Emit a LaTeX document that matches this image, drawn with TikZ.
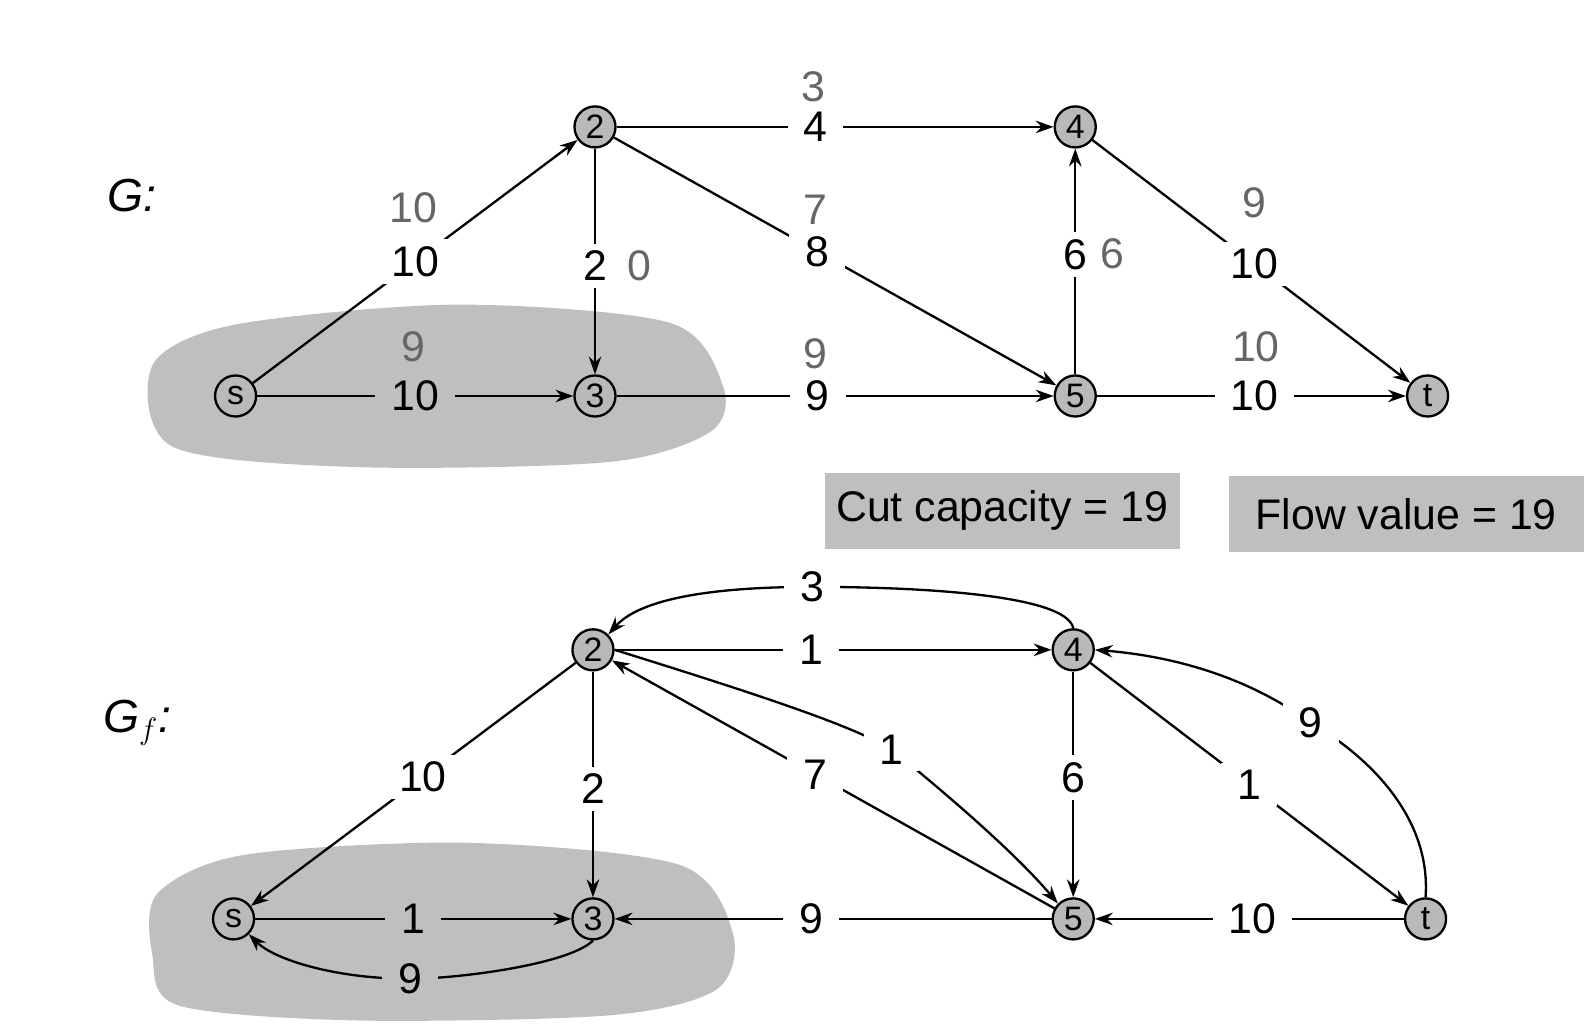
\documentclass[tikz,border=0pt]{standalone}
\usepackage{fontspec}
\setmainfont{Liberation Sans}
\usetikzlibrary{arrows.meta}
\begin{document}
\begin{tikzpicture}[x=0.02cm,y=-0.02cm,
 v/.style={circle,draw,line width=1.3pt,fill=gray!55,minimum size=23pt,inner sep=0pt,font=\fontsize{19}{20}\selectfont},
 e/.style={line width=1.3pt,-{Stealth[length=10pt,width=7pt]}},
 lb/.style={fill=white,inner xsep=9pt,inner ysep=4pt,font=\fontsize{24}{26}\selectfont},
 lbg/.style={lb,fill=gray!50},
 gl/.style={text=gray!80!black,font=\fontsize{24}{26}\selectfont},
 bx/.style={fill=gray!50,minimum width=7cm,minimum height=1.5cm,font=\fontsize{24}{26}\selectfont}]
\useasboundingbox (0,0) rectangle (1564,1018);
% blobs
\fill[gray!50] plot[smooth cycle] coordinates {(150,360) (230,320) (450,300) (660,318) (712,380) (700,425) (600,455) (350,460) (170,440)};
\fill[gray!50] plot[smooth cycle] coordinates {(155,880) (240,842) (460,830) (670,852) (722,920) (705,975) (600,1000) (350,1005) (175,990) (150,940)};
% boxes
\node[bx] (cut) at (987,503) {Cut capacity = 19};
\node[bx] (flow) at (1385,506) {Flow value = 19};
\node[font=\fontsize{26}{28}\selectfont\itshape] (G) at (130,193) {G:};
\node[font=\fontsize{26}{28}\selectfont\itshape] (Gf) at (135,712) {G$_f$:};
% top graph
\node[v] (a2) at (586,125) {2};
\node[v] (a4) at (1059,125) {4};
\node[v] (as) at (232,390) {s};
\node[v] (a3) at (586,390) {3};
\node[v] (a5) at (1059,390) {5};
\node[v] (at) at (1406,390) {t};
\draw[e] (a2) -- node[lb,pos=0.455]{4} (a4);
\draw[e] (as) -- node[lb,pos=0.5]{10} (a2);
\draw[e] (a2) -- node[lb,pos=0.52]{2} (a3);
\draw[e] (a2) -- node[lb,pos=0.46]{8} (a5);
\draw[e] (a5) -- node[lb,pos=0.53]{6} (a4);
\draw[e] (a4) -- node[lb,pos=0.51]{10} (at);
\draw[e] (as) -- node[lbg]{10} (a3);
\draw[e] (a3) -- node[lb,pos=0.46]{9} (a5);
\draw[e] (a5) -- node[lb,pos=0.51]{10} (at);
\node[gl] (f1) at (801,85) {3};
\node[gl] (f2) at (407,205) {10};
\node[gl] (f3) at (630,262) {0};
\node[gl] (f4) at (803,207) {7};
\node[gl] (f5) at (1096,250) {6};
\node[gl] (f6) at (1235,200) {9};
\node[gl] (f7) at (407,342) {9};
\node[gl] (f8) at (803,348) {9};
\node[gl] (f9) at (1237,342) {10};
% bottom graph
\node[v] (b2) at (584,640) {2};
\node[v] (b4) at (1057,640) {4};
\node[v] (bs) at (230,905) {s};
\node[v] (b3) at (584,905) {3};
\node[v] (b5) at (1057,905) {5};
\node[v] (bt) at (1404,905) {t};
\draw[e] (b4.north) .. controls (1050,585) and (900,578) .. node[lb,pos=1]{3} (800,578) .. controls (700,578) and (630,590) .. (b2.north east);
\draw[e] (b2) -- node[lb,pos=0.45]{1} (b4);
\draw[e] (b2) -- node[lb,pos=0.47]{10} (bs);
\draw[e] (b2) -- node[lb,pos=0.52]{2} (b3);
\draw[e] (b5) -- node[lb,pos=0.54]{7} (b2);
\draw[e] (b2.east) .. controls (750,685) and (840,715) .. node[lb,pos=1]{1} (878,738) .. controls (930,780) and (1000,840) .. (b5.north west);
\draw[e] (b4) -- node[lb,pos=0.47]{6} (b5);
\draw[e] (b4) -- node[lb]{1} (bt);
\draw[e] (bt.north) .. controls (1410,800) and (1340,740) .. node[lb,pos=1]{9} (1291,712) .. controls (1220,660) and (1140,645) .. (b4.east);
\draw[e] (bs) -- node[lbg]{1} (b3);
\draw[e] (b3.south) .. controls (560,950) and (450,964) .. node[lbg,pos=1]{9} (404,964) .. controls (330,964) and (270,945) .. (bs.south east);
\draw[e] (b5) -- node[lb,pos=0.55]{9} (b3);
\draw[e] (bt) -- node[lb,pos=0.49]{10} (b5);
\end{tikzpicture}
\end{document}
